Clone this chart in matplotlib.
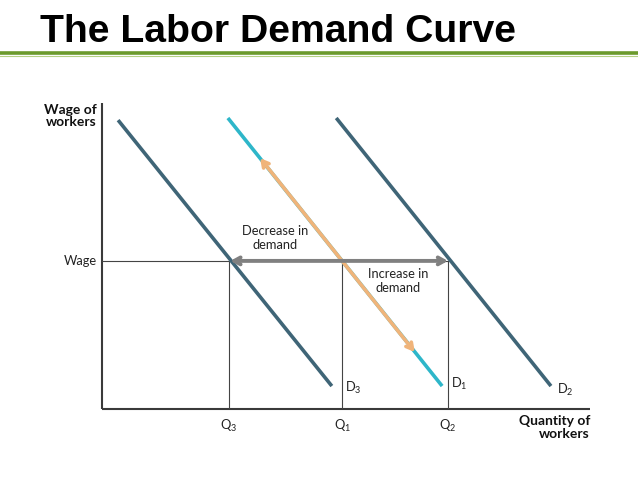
import matplotlib
matplotlib.use("Agg")
import matplotlib.pyplot as plt
from matplotlib.lines import Line2D

# ---- data (axis units: 0..10 on both axes) ----
q_labels = ["Q$_3$", "Q$_1$", "Q$_2$"]
q_values = [2.60, 4.92, 7.09]
wage = 4.84

d3_x = [0.33, 4.71]
d3_y = [9.44, 0.75]
d1_x = [2.58, 6.97]
d1_y = [9.51, 0.75]
d2_x = [4.80, 9.20]
d2_y = [9.51, 0.75]
move_start = (3.24, 8.20)
move_end = (6.41, 1.86)
curve_labels = ["D$_3$", "D$_1$", "D$_2$"]

W, H = 638, 479
fig = plt.figure(figsize=(W / 100, H / 100), dpi=100)
fig.patch.set_facecolor("white")

# title and green rule
fig.text(40 / W, 1 - 42 / H, "The Labor Demand Curve", family="Liberation Sans",
         weight="bold", fontsize=28.2, color="black", ha="left", va="baseline")
fig.add_artist(Line2D([0, 1], [1 - 53 / H, 1 - 53 / H], color="#6b9a2c", lw=2.6,
                      transform=fig.transFigure))
fig.add_artist(Line2D([0, 1], [1 - 55.5 / H, 1 - 55.5 / H], color="#b5d184", lw=0.8,
                      transform=fig.transFigure))

left, right, top, bottom = 102, 590, 103, 409
ax = fig.add_axes([left / W, 1 - bottom / H, (right - left) / W, (bottom - top) / H])
ax.set_xlim(0, 10)
ax.set_ylim(0, 10)
ax.axis("off")
axis_col = "#3a3a3a"
ax.plot([0, 0], [0, 10], color=axis_col, lw=1.5, solid_capstyle="butt", clip_on=False)
ax.plot([0, 10], [0, 0], color=axis_col, lw=1.5, solid_capstyle="butt", clip_on=False)

thin = "#444444"
ax.plot([0, q_values[2]], [wage, wage], color=thin, lw=0.8)
for q in q_values:
    ax.plot([q, q], [0, wage], color=thin, lw=0.8)

dark = "#3f6577"
teal = "#2eb6c9"
ax.plot(d3_x, d3_y, color=dark, lw=2.6, solid_capstyle="butt")
ax.plot(d2_x, d2_y, color=dark, lw=2.6, solid_capstyle="butt")
ax.plot(d1_x, d1_y, color=teal, lw=2.6, solid_capstyle="butt")

# orange movement along D1
ax.annotate("", xy=move_end, xytext=move_start,
            arrowprops=dict(arrowstyle="<->,head_length=0.45,head_width=0.25",
                            color="#f0b47a", lw=2.6, shrinkA=0, shrinkB=0))
# gray shift arrow
ax.annotate("", xy=(q_values[0] + 0.03, wage), xytext=(q_values[2], wage),
            arrowprops=dict(arrowstyle="<->,head_length=0.45,head_width=0.25",
                            color="#808080", lw=2.8, shrinkA=0, shrinkB=0))

fam = ["Lato", "DejaVu Sans"]
plt.rcParams["mathtext.fontset"] = "custom"
plt.rcParams["mathtext.rm"] = "Lato"
plt.rcParams["mathtext.it"] = "Lato"

fs = 9.3
ax.text(3.55, 5.15, "Decrease in\ndemand", family=fam, fontsize=fs, ha="center",
        va="bottom", linespacing=1.2, color="#222222")
ax.text(6.06, 4.62, "Increase in\ndemand", family=fam, fontsize=fs, ha="center",
        va="top", linespacing=1.2, color="#222222")

# axis labels
fig.text(97 / W, 1 - 104 / H, "Wage of\nworkers", family=fam, weight="bold", fontsize=10,
         ha="right", va="top", linespacing=1.05, color="#111111")
ax.text(-0.1, wage, "Wage", family=fam, fontsize=fs, ha="right", va="center",
        color="#222222")
fig.text(590 / W, 1 - 415 / H, "Quantity of\nworkers", family=fam, weight="bold",
         fontsize=10, ha="right", va="top", linespacing=1.05, color="#111111")

for lab, q in zip(q_labels, q_values):
    ax.text(q, -0.3, lab, family=fam, fontsize=fs, ha="center", va="top", color="#222222")

ax.text(d3_x[1] + 0.27, d3_y[1] - 0.05, curve_labels[0], family=fam, fontsize=fs,
        ha="left", va="center", color="#222222")
ax.text(d1_x[1] + 0.19, d1_y[1] + 0.07, curve_labels[1], family=fam, fontsize=fs,
        ha="left", va="center", color="#222222")
ax.text(d2_x[1] + 0.12, d2_y[1] - 0.12, curve_labels[2], family=fam, fontsize=fs,
        ha="left", va="center", color="#222222")

fig.savefig("out.png", dpi=100, facecolor="white")
